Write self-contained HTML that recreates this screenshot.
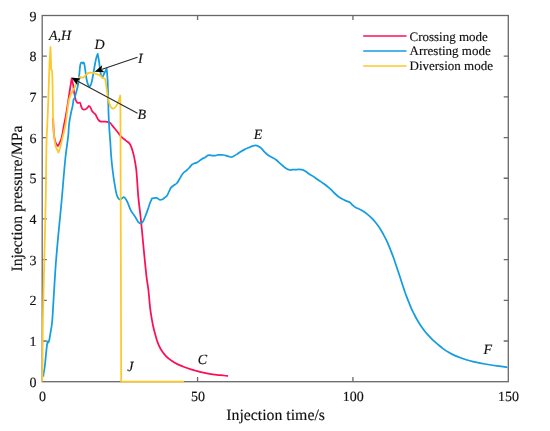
<!DOCTYPE html>
<html><head><meta charset="utf-8"><style>
html,body{margin:0;padding:0;background:#fff;}
svg{display:block;}
text{font-family:"Liberation Serif","Times New Roman",serif;fill:#111;stroke:#111;stroke-width:0.15px;text-rendering:geometricPrecision;}
.t{font-size:14px;}
.it{font-size:14px;font-style:italic;}
.lg{font-size:13px;}
.lab{font-size:15.8px;}
</style></head><body>
<svg width="550" height="431" viewBox="0 0 550 431">
<rect width="550" height="431" fill="#fff"/>
<rect x="42.2" y="15.5" width="466.1" height="366.2" fill="none" stroke="#686868" stroke-width="1.3"/>
<path d="M42.2,341.01h4.6M508.3,341.01h-4.6M42.2,300.32h4.6M508.3,300.32h-4.6M42.2,259.63h4.6M508.3,259.63h-4.6M42.2,218.94h4.6M508.3,218.94h-4.6M42.2,178.26h4.6M508.3,178.26h-4.6M42.2,137.57h4.6M508.3,137.57h-4.6M42.2,96.88h4.6M508.3,96.88h-4.6M42.2,56.19h4.6M508.3,56.19h-4.6M197.57,381.7v-4.6M197.57,15.5v4.6M352.93,381.7v-4.6M352.93,15.5v4.6" stroke="#686868" stroke-width="1.3" fill="none"/>
<g fill="none" stroke-linejoin="round" stroke-linecap="butt" stroke-width="1.75">
<path d="M53.10,118.00C53.40,123.67 53.48,130.75 54.00,135.00C54.32,137.59 54.70,139.46 55.20,141.20C55.58,142.52 55.93,143.76 56.50,144.60C56.93,145.23 57.50,145.53 58.00,146.00C59.00,143.97 60.13,142.45 61.00,139.90C62.30,136.09 63.16,129.20 64.00,125.00C64.62,121.92 65.07,119.91 65.60,117.00C66.24,113.52 66.88,109.42 67.50,105.50C68.15,101.42 68.81,96.82 69.40,93.00C69.90,89.75 70.40,86.56 70.80,84.00C71.10,82.09 71.33,80.67 71.60,79.00C72.13,81.00 72.80,82.95 73.20,85.00C73.61,87.11 73.66,89.37 74.00,91.50C74.33,93.57 74.91,96.05 75.20,97.60C75.38,98.55 75.47,99.13 75.60,99.90C75.93,100.47 76.21,101.08 76.60,101.60C76.98,102.11 77.36,102.83 77.90,103.00C78.46,103.18 79.39,102.30 79.90,102.60C80.59,103.00 80.64,105.08 81.10,106.20C81.52,107.23 81.80,108.57 82.50,109.10C83.10,109.55 84.06,109.64 84.80,109.50C85.60,109.35 86.38,108.66 87.10,108.10C87.85,107.51 88.57,105.96 89.20,106.00C89.79,106.04 90.33,107.29 90.80,108.10C91.35,109.03 91.55,110.38 92.20,111.30C92.83,112.20 93.96,112.95 94.60,113.60C95.05,114.06 95.35,114.29 95.70,114.80C96.17,115.48 96.54,116.56 97.00,117.40C97.45,118.22 97.84,119.12 98.40,119.80C98.92,120.44 99.43,121.08 100.20,121.40C101.12,121.78 102.52,121.52 103.70,121.60C104.92,121.68 106.27,121.66 107.40,121.90C108.41,122.12 109.42,122.33 110.20,122.90C111.00,123.48 111.40,124.51 112.10,125.40C112.93,126.45 113.97,127.69 114.90,128.80C115.80,129.89 116.62,130.80 117.60,132.00C118.84,133.52 120.24,135.72 121.70,137.20C123.02,138.54 124.56,139.52 125.90,140.60C127.12,141.58 128.47,142.25 129.40,143.40C130.35,144.58 130.86,145.99 131.50,147.60C132.30,149.61 133.01,152.26 133.60,154.60C134.18,156.90 134.57,159.07 135.00,161.50C135.48,164.18 135.88,166.34 136.30,170.00C137.05,176.60 137.61,189.61 138.40,197.90C139.04,204.59 139.89,210.35 140.50,216.00C141.04,220.96 141.40,224.86 141.90,230.00C142.51,236.31 143.17,243.69 143.90,251.10C144.72,259.36 145.72,270.14 146.60,277.30C147.21,282.30 147.93,286.09 148.40,290.00C148.80,293.34 149.00,296.20 149.30,299.30C149.60,302.40 149.82,305.51 150.20,308.60C150.58,311.71 151.12,315.01 151.60,317.90C152.02,320.43 152.36,322.48 152.90,325.00C153.52,327.90 154.34,331.21 155.20,334.30C156.07,337.41 156.95,340.77 158.10,343.60C159.12,346.12 160.23,348.36 161.60,350.50C162.94,352.59 164.47,354.55 166.20,356.30C167.94,358.05 170.01,359.62 172.00,361.00C173.89,362.31 175.74,363.37 177.80,364.40C179.99,365.49 182.45,366.43 184.80,367.30C187.12,368.16 189.91,369.02 191.80,369.60C193.07,369.99 193.71,370.15 195.00,370.50C196.94,371.02 199.87,371.85 202.30,372.40C204.70,372.95 207.09,373.40 209.50,373.80C211.92,374.20 214.36,374.52 216.80,374.80C219.23,375.08 222.03,375.27 224.10,375.50C225.63,375.67 226.77,375.83 228.10,376.00" stroke="#fc0f57"/>
<path d="M43.30,376.60C43.40,375.57 43.44,374.68 43.60,373.50C43.82,371.92 44.30,370.10 44.60,368.00C44.99,365.23 45.24,361.74 45.60,358.30C46.00,354.40 46.49,348.88 46.90,345.80C47.14,343.99 47.37,342.93 47.60,341.50C47.87,341.87 48.15,342.64 48.40,342.60C48.78,342.54 49.07,340.60 49.40,339.60C49.73,337.50 50.03,335.54 50.40,333.30C50.82,330.72 51.47,327.42 51.80,325.00C52.05,323.13 52.09,322.59 52.30,320.00C53.03,311.04 54.53,279.99 56.10,260.00C57.67,239.99 60.05,218.22 61.70,200.00C63.08,184.76 64.13,169.90 65.40,158.00C66.34,149.18 67.68,141.28 68.30,135.00C68.73,130.67 68.64,127.73 69.10,124.00C69.58,120.08 70.53,115.31 71.20,112.00C71.68,109.65 72.22,108.04 72.60,106.00C72.99,103.91 73.20,101.73 73.50,99.60L74.50,98.40C75.10,96.27 75.73,94.15 76.30,92.00C76.87,89.85 77.49,87.59 77.90,85.50C78.27,83.60 78.45,81.98 78.70,80.00C78.99,77.67 79.24,74.87 79.50,72.40C79.74,70.04 79.83,67.28 80.20,65.50C80.44,64.34 80.65,63.11 81.10,62.70C81.35,62.47 81.71,62.42 82.00,62.50C82.35,62.60 82.68,63.51 83.00,63.50C83.31,63.49 83.65,62.43 83.90,62.50C84.36,62.62 84.52,65.21 84.80,66.80C85.14,68.74 85.38,71.13 85.70,73.30C86.02,75.47 86.27,77.83 86.70,79.80C87.06,81.48 87.45,83.18 88.00,84.40C88.40,85.30 88.91,86.57 89.40,86.60C89.85,86.63 90.40,85.67 90.80,84.90C91.42,83.70 91.77,81.70 92.20,79.80C92.73,77.46 93.13,74.53 93.60,71.90C94.07,69.27 94.51,66.49 95.00,64.00C95.45,61.75 95.88,59.43 96.40,57.60C96.80,56.18 97.27,55.13 97.70,53.90C98.13,56.27 98.62,58.49 99.00,61.00C99.43,63.82 99.68,67.37 100.10,70.00C100.43,72.07 100.63,74.23 101.20,75.50C101.55,76.28 102.07,76.63 102.50,77.20C103.17,75.80 103.81,74.41 104.50,73.00C105.21,71.55 105.97,70.07 106.70,68.60C107.00,72.40 107.37,75.94 107.60,80.00C107.86,84.65 107.94,89.64 108.10,95.00C108.28,101.19 108.36,108.81 108.60,115.00C108.81,120.36 109.10,125.28 109.40,130.00C109.67,134.22 110.02,137.92 110.30,142.00C110.59,146.25 110.74,150.52 111.10,155.00C111.49,159.82 111.99,164.99 112.60,170.00C113.22,175.06 113.97,180.60 114.80,185.20C115.50,189.06 116.05,193.26 117.10,195.80C117.76,197.39 118.49,199.09 119.40,199.40C120.09,199.64 120.97,198.96 121.70,198.60C122.44,198.23 123.12,197.14 123.80,197.20C124.53,197.26 125.27,198.34 125.90,199.20C126.71,200.29 127.28,201.81 128.00,203.40C128.91,205.42 129.75,208.41 130.80,210.40C131.66,212.03 132.74,213.35 133.60,214.60C134.31,215.63 134.90,216.32 135.60,217.40C136.49,218.77 137.40,221.14 138.40,222.20C139.07,222.91 139.80,223.60 140.50,223.60C141.20,223.60 141.95,222.97 142.60,222.20C143.67,220.94 144.53,218.10 145.40,216.00C146.27,213.90 147.04,211.76 147.80,209.60C148.57,207.42 149.24,204.99 150.00,203.00C150.65,201.31 151.33,199.93 152.00,198.40C153.53,198.23 155.24,197.60 156.60,197.90C157.84,198.18 158.82,199.74 159.90,199.90C160.82,200.03 161.76,199.60 162.60,199.20C163.47,198.78 164.26,197.97 165.00,197.40C165.65,196.91 166.24,196.69 166.80,196.00C167.65,194.97 168.37,192.86 169.10,191.40C169.76,190.07 170.17,188.64 171.00,187.60C171.77,186.64 172.85,185.99 173.80,185.30C174.71,184.63 175.75,184.34 176.60,183.50C177.65,182.46 178.48,180.78 179.40,179.30C180.38,177.72 181.33,175.62 182.30,174.30C183.03,173.31 183.75,172.56 184.50,171.90C185.15,171.33 185.80,171.08 186.50,170.50C187.39,169.76 188.38,168.68 189.30,167.70C190.25,166.68 191.20,165.19 192.10,164.50C192.72,164.02 193.22,163.89 193.90,163.60C194.72,163.25 195.79,163.05 196.70,162.60C197.66,162.13 198.58,161.44 199.50,160.80C200.45,160.14 201.33,159.26 202.30,158.70C203.20,158.18 204.20,158.02 205.10,157.50C206.07,156.94 207.03,155.80 207.90,155.40C208.53,155.11 209.03,155.00 209.70,155.00C210.53,155.00 211.56,155.50 212.50,155.60C213.43,155.70 214.38,155.73 215.30,155.60C216.24,155.47 217.18,154.91 218.10,154.80C218.95,154.70 219.74,154.87 220.60,154.90C221.51,154.93 222.48,154.88 223.40,155.00C224.31,155.12 225.20,155.36 226.10,155.60C227.03,155.85 228.01,156.24 228.90,156.50C229.70,156.73 230.43,157.14 231.20,157.10C232.00,157.06 232.73,156.62 233.60,156.20C234.72,155.66 236.08,154.78 237.30,154.00C238.54,153.21 239.75,152.27 241.00,151.50C242.22,150.74 243.45,150.02 244.70,149.40C245.92,148.79 247.17,148.33 248.40,147.80C249.63,147.27 250.87,146.62 252.10,146.20C253.27,145.80 254.50,145.27 255.60,145.30C256.59,145.33 257.51,145.74 258.40,146.20C259.35,146.69 260.16,147.36 261.10,148.20C262.31,149.28 263.61,151.05 264.90,152.30C266.11,153.47 267.32,154.61 268.60,155.50C269.79,156.32 271.08,156.79 272.30,157.50C273.54,158.22 274.80,158.91 276.00,159.80C277.28,160.75 278.46,162.01 279.70,163.10C280.93,164.18 282.15,165.30 283.40,166.30C284.61,167.26 285.90,168.37 287.10,169.00C288.09,169.51 289.07,169.90 290.00,170.00C290.83,170.09 291.46,169.78 292.40,169.70C293.70,169.59 295.54,169.50 297.10,169.50C298.64,169.50 300.28,169.37 301.70,169.70C303.03,170.01 304.20,170.63 305.40,171.30C306.67,172.01 307.78,173.04 309.10,173.90C310.56,174.84 312.35,175.72 313.80,176.70C315.13,177.60 316.25,178.62 317.50,179.50C318.72,180.35 320.10,181.14 321.20,181.90C322.12,182.53 322.79,183.03 323.70,183.70C324.82,184.52 326.18,185.51 327.40,186.50C328.65,187.51 329.88,188.56 331.10,189.70C332.38,190.89 333.62,192.31 334.90,193.50C336.12,194.64 337.33,195.76 338.60,196.70C339.80,197.58 341.05,198.29 342.30,199.00C343.52,199.69 344.75,200.35 346.00,200.90C347.22,201.44 348.62,201.60 349.70,202.30C350.78,203.00 351.54,204.25 352.50,205.10C353.41,205.91 354.28,206.69 355.30,207.30C356.34,207.93 357.54,208.24 358.70,208.80C359.94,209.40 361.16,209.97 362.50,210.80C364.15,211.82 366.12,213.24 367.80,214.60C369.46,215.94 371.03,217.37 372.50,218.90C373.97,220.43 375.30,222.12 376.60,223.80C377.90,225.48 379.15,227.21 380.30,229.00C381.45,230.80 382.47,232.71 383.50,234.60C384.54,236.51 385.56,238.44 386.50,240.40C387.43,242.34 388.27,244.31 389.10,246.30C389.94,248.31 390.72,250.36 391.50,252.40C392.28,254.43 393.07,256.45 393.80,258.50C394.53,260.55 395.20,262.62 395.90,264.70C396.60,266.79 397.30,268.90 398.00,271.00C398.70,273.10 399.42,275.20 400.10,277.30C400.78,279.40 401.42,281.50 402.10,283.60C402.78,285.70 403.48,287.81 404.20,289.90C404.92,291.98 405.63,294.05 406.40,296.10C407.17,298.15 407.98,300.17 408.80,302.20C409.62,304.24 410.41,306.31 411.30,308.30C412.18,310.27 413.13,312.18 414.10,314.10C415.07,316.02 416.03,317.94 417.10,319.80C418.17,321.67 419.31,323.51 420.50,325.30C421.68,327.08 422.89,328.82 424.20,330.50C425.52,332.19 426.95,333.80 428.40,335.40C429.85,337.00 431.33,338.61 432.90,340.10C434.46,341.58 436.14,342.90 437.80,344.30C439.50,345.73 441.16,347.25 443.00,348.60C444.89,349.99 446.97,351.32 449.00,352.50C450.97,353.65 452.98,354.68 455.00,355.60C456.98,356.50 458.99,357.26 461.00,358.00C462.99,358.73 464.99,359.40 467.00,360.00C468.99,360.60 470.99,361.12 473.00,361.60C474.99,362.08 477.00,362.50 479.00,362.90C481.00,363.30 483.00,363.65 485.00,364.00C487.00,364.35 489.00,364.68 491.00,365.00C493.00,365.32 495.00,365.62 497.00,365.90C499.00,366.18 501.15,366.45 503.00,366.70C504.58,366.91 505.93,367.10 507.40,367.30" stroke="#159de0"/>
<path d="M42.20,381.50C42.30,377.67 42.41,375.18 42.50,370.00C42.68,359.20 42.63,337.42 42.90,320.00C43.20,300.91 43.83,280.00 44.30,260.00C44.77,240.00 45.32,220.00 45.70,200.00C46.08,180.00 46.16,154.64 46.60,140.00C46.85,131.54 47.22,126.67 47.50,120.00C47.78,113.33 48.05,106.83 48.30,100.00C48.56,92.84 48.75,84.97 49.00,78.00C49.22,71.70 49.42,65.51 49.70,60.00C49.94,55.31 50.23,51.33 50.50,47.00C50.63,50.83 50.78,54.70 50.90,58.50C51.02,62.23 51.10,65.90 51.20,69.60L52.00,70.40C52.13,72.93 52.29,74.81 52.40,78.00C52.59,83.43 52.68,93.03 52.80,100.00C52.91,106.30 52.89,112.09 53.10,118.00C53.30,123.75 53.47,129.90 54.00,135.00C54.44,139.22 54.86,143.32 55.80,146.50C56.51,148.91 57.60,150.57 58.50,152.60C59.10,150.73 59.74,148.99 60.30,147.00C60.92,144.78 61.34,142.70 62.00,139.90C62.95,135.85 64.52,129.82 65.40,125.00C66.22,120.54 66.62,116.20 67.20,112.00C67.75,108.05 68.06,103.70 68.80,100.50C69.35,98.12 70.01,96.20 70.80,94.40C71.48,92.86 72.37,91.63 73.10,90.30C73.80,89.04 74.48,87.96 75.10,86.60C75.80,85.06 76.36,83.00 77.00,81.50C77.53,80.27 77.97,79.02 78.60,78.20C79.08,77.57 79.58,76.92 80.20,76.80C80.87,76.67 81.79,77.63 82.50,77.60C83.14,77.57 83.74,77.23 84.30,76.80C84.99,76.28 85.54,75.14 86.20,74.50C86.78,73.94 87.35,73.42 88.00,73.10C88.62,72.80 89.27,72.66 90.00,72.60C90.85,72.53 91.86,72.61 92.80,72.80C93.80,73.00 94.89,73.48 95.80,73.80C96.57,74.07 97.18,74.34 97.90,74.60C98.65,74.87 99.58,75.00 100.20,75.40C100.75,75.76 101.10,76.39 101.50,76.80C101.82,77.14 102.07,77.45 102.40,77.70C102.73,77.95 103.08,78.13 103.50,78.30C104.00,78.51 104.63,78.63 105.20,78.80C105.60,81.43 106.02,84.05 106.40,86.70C106.79,89.38 107.03,92.08 107.50,94.80C107.99,97.58 108.53,100.88 109.30,103.20C109.87,104.94 110.42,106.72 111.30,107.60C111.92,108.22 112.80,108.68 113.50,108.60C114.23,108.52 114.97,107.71 115.60,107.00C116.37,106.13 117.01,104.81 117.60,103.60C118.22,102.32 118.76,100.87 119.20,99.50C119.62,98.17 119.87,96.83 120.20,95.50L120.40,100.00L121.20,381.60L184.00,381.60" stroke="#fcc82a"/>
</g>
<g class="t"><text x="36.5" y="386.8" text-anchor="end">0</text><text x="36.5" y="346.1" text-anchor="end">1</text><text x="36.5" y="305.4" text-anchor="end">2</text><text x="36.5" y="264.7" text-anchor="end">3</text><text x="36.5" y="224.0" text-anchor="end">4</text><text x="36.5" y="183.4" text-anchor="end">5</text><text x="36.5" y="142.7" text-anchor="end">6</text><text x="36.5" y="102.0" text-anchor="end">7</text><text x="36.5" y="61.3" text-anchor="end">8</text><text x="36.5" y="20.6" text-anchor="end">9</text><text x="42.5" y="401.2" text-anchor="middle">0</text><text x="197.9" y="401.2" text-anchor="middle">50</text><text x="353.2" y="401.2" text-anchor="middle">100</text><text x="508.6" y="401.2" text-anchor="middle">150</text></g>
<text class="lab" x="275.6" y="420.4" text-anchor="middle">Injection time/s</text>
<text class="lab" transform="translate(22.4,198.6) rotate(-90)" style="font-size:15.7px" text-anchor="middle">Injection pressure/MPa</text>
<g stroke-width="1.6" fill="none">
<path d="M363.2,36H406.5" stroke="#fc0f57"/>
<path d="M363.2,51H406.5" stroke="#159de0"/>
<path d="M363.2,66H406.5" stroke="#fcc82a"/>
</g>
<g class="lg">
<text x="409.5" y="40.5">Crossing mode</text>
<text x="409.5" y="55.2">Arresting mode</text>
<text x="409.5" y="70">Diversion mode</text>
</g>
<path d="M77.34,80.91L137.50,113.30" stroke="#2a2a2a" stroke-width="1.1" fill="none"/><path d="M71.00,77.50L77.35,85.12L77.34,80.91L80.85,78.60Z" fill="#000"/>
<path d="M101.42,69.48L137.50,57.20" stroke="#2a2a2a" stroke-width="1.1" fill="none"/><path d="M94.60,71.80L104.50,72.34L101.42,69.48L102.12,65.33Z" fill="#000"/>
<g class="it">
<text x="49" y="40">A,H</text>
<text x="94.6" y="49.3">D</text>
<text x="138" y="63">I</text>
<text x="137.6" y="118.6">B</text>
<text x="253.7" y="138.7">E</text>
<text x="483.6" y="354.1">F</text>
<text x="197.8" y="363.8">C</text>
<text x="127.3" y="371">J</text>
</g>
</svg>
</body></html>
